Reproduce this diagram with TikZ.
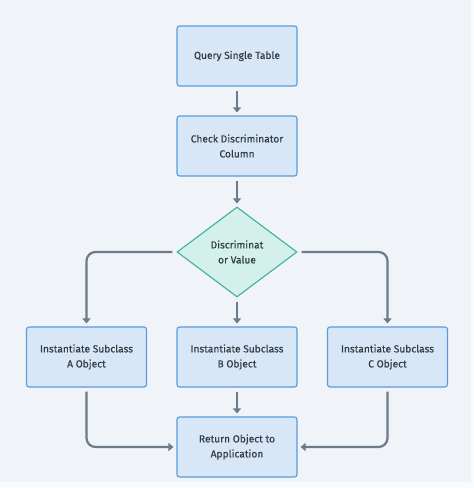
\documentclass[tikz,border=0pt]{standalone}
\usepackage{fontspec}
\setmainfont[FakeBold=0.4]{Fira Sans}
\usetikzlibrary{shapes.geometric,arrows.meta}
\definecolor{bg}{HTML}{F0F4F8}
\definecolor{bgedge}{HTML}{F8FAFC}
\definecolor{boxfill}{HTML}{D8E7F7}
\definecolor{boxline}{HTML}{5A9BD8}
\definecolor{dfill}{HTML}{D3F0EA}
\definecolor{dline}{HTML}{3DB39A}
\definecolor{arrowc}{HTML}{6C7A89}
\definecolor{txt}{HTML}{333B45}
\tikzset{
  procbox/.style={rectangle, rounded corners=2.5pt, draw=boxline, fill=boxfill, line width=1.1pt,
    minimum width=120pt, minimum height=60pt, align=center, text=txt, font=\fontsize{10.2}{15}\selectfont, inner sep=2pt},
  decision/.style={diamond, draw=dline, fill=dfill, line width=1.1pt, minimum width=120pt, minimum height=90pt,
    aspect=1.333, inner sep=0pt, align=center, text=txt, font=\fontsize{10.2}{15}\selectfont},
  flow/.style={draw=arrowc, line width=2.2pt, rounded corners=9pt, -{Triangle[length=5pt,width=8pt]},
    shorten >=3pt, shorten <=4pt},
}
\begin{document}
\begin{tikzpicture}[x=1pt,y=-1pt]
\fill[bgedge] (0,0) rectangle (474,488);
\fill[bg] (0,0) rectangle (471,482);
\useasboundingbox (0,0) rectangle (474,488);
\node[procbox] (q) at (237,56) {Query Single Table};
\node[procbox] (c) at (237,146) {Check Discriminator\\Column};
\node[decision] (d) at (237,252) {Discriminat\\or Value};
\node[procbox] (a) at (86.5,357) {Instantiate Subclass\\A Object};
\node[procbox] (b) at (237,357) {Instantiate Subclass\\B Object};
\node[procbox] (cc) at (387.5,357) {Instantiate Subclass\\C Object};
\node[procbox] (r) at (237,447) {Return Object to\\Application};
\draw[flow] (q) -- (c);
\draw[flow] (c) -- (d);
\draw[flow] (d) -- (b);
\draw[flow] (d.west) -| (a.north);
\draw[flow] (d.east) -| (cc.north);
\draw[flow] (b) -- (r);
\draw[flow] (a.south) |- (r.west);
\draw[flow] (cc.south) |- (r.east);
\end{tikzpicture}
\end{document}
